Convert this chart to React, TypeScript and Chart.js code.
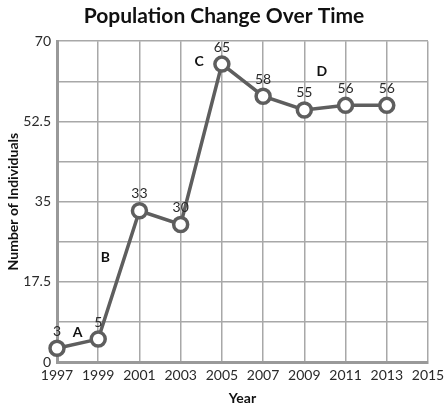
import React, { useEffect, useRef } from "react";
import { Chart, registerables } from "chart.js";

Chart.register(...registerables);

const years = [1997, 1999, 2001, 2003, 2005, 2007, 2009, 2011, 2013];
const population = [3, 5, 33, 30, 65, 58, 55, 56, 56];
const yTickLabels = [0, 17.5, 35, 52.5, 70];
const noteLabels = ["A", "B", "C", "D"];
const noteX = [1998, 1999.35, 2003.9, 2009.85];
const noteY = [6.5, 22.7, 65.6, 63.5];

const FONT = "Lato, 'Open Sans', sans-serif";

const labelPlugin = {
  id: "pointLabels",
  afterDatasetsDraw(chart: any) {
    const ctx = chart.ctx;
    const xs = chart.scales.x;
    const ys = chart.scales.y;
    ctx.save();
    ctx.textAlign = "center";
    ctx.textBaseline = "middle";
    ctx.fillStyle = "#2a2a2a";
    ctx.font = `14px ${FONT}`;
    const meta = chart.getDatasetMeta(0);
    meta.data.forEach((pt: any, i: number) => {
      ctx.fillText(String(population[i]), pt.x, pt.y - 17);
    });
    ctx.font = `bold 14px ${FONT}`;
    ctx.fillStyle = "#111";
    noteLabels.forEach((t, i) => {
      ctx.fillText(t, xs.getPixelForValue(noteX[i]), ys.getPixelForValue(noteY[i]));
    });
    ctx.restore();
  },
};

export default function App() {
  const ref = useRef<HTMLCanvasElement | null>(null);
  useEffect(() => {
    if (!ref.current) return;
    const chart = new Chart(ref.current, {
      type: "line",
      data: {
        datasets: [
          {
            data: years.map((y, i) => ({ x: y, y: population[i] })),
            borderColor: "#5e5e5e",
            borderWidth: 3.5,
            pointBackgroundColor: "#ffffff",
            pointBorderColor: "#5e5e5e",
            pointBorderWidth: 3.5,
            pointRadius: 7,
            tension: 0,
            clip: false as any,
          },
        ],
      },
      options: {
        animation: false,
        responsive: true,
        maintainAspectRatio: false,
        layout: { padding: { left: 0, right: 0, top: 0, bottom: 0 } },
        plugins: {
          legend: { display: false },
          tooltip: { enabled: false },
          title: {
            display: true,
            text: "Population Change Over Time",
            color: "#111",
            font: { family: FONT, size: 21, weight: "bold" },
            padding: { top: 4, bottom: 12 },
          },
        },
        scales: {
          x: {
            type: "linear",
            min: 1997,
            max: 2015,
            ticks: {
              stepSize: 2,
              color: "#2a2a2a",
              font: { family: FONT, size: 14 },
              padding: 5,
              maxRotation: 0,
              callback: (v: any) => String(v),
            },
            grid: { color: "#a8a8a8", lineWidth: 1.5, drawTicks: false },
            border: { color: "#999", width: 3 },
            title: {
              display: true,
              text: "Year",
              color: "#111",
              font: { family: FONT, size: 14, weight: "bold" },
              padding: { top: 2, bottom: 3 },
            },
            afterFit: (s: any) => {
              s.height = 48;
              s.paddingRight = 20;
            },
          },
          y: {
            type: "linear",
            min: 0,
            max: 70,
            ticks: {
              stepSize: 8.75,
              color: "#2a2a2a",
              font: { family: FONT, size: 14 },
              padding: 6,
              callback: (v: any) => (yTickLabels.includes(Number(v)) ? String(v) : ""),
            },
            grid: { color: "#a8a8a8", lineWidth: 1.5, drawTicks: false },
            border: { color: "#999", width: 3 },
            title: {
              display: true,
              text: "Number of Individuals",
              color: "#111",
              font: { family: FONT, size: 14, weight: "bold" },
              padding: { top: 5, bottom: 0 },
            },
            afterFit: (s: any) => {
              s.width = 57;
            },
          },
        },
      },
      plugins: [labelPlugin],
    });
    return () => chart.destroy();
  }, []);
  return (
    <div style={{ position: "fixed", left: 0, top: 0, width: 448, height: 410, background: "#fff" }}>
      <canvas ref={ref} />
    </div>
  );
}
